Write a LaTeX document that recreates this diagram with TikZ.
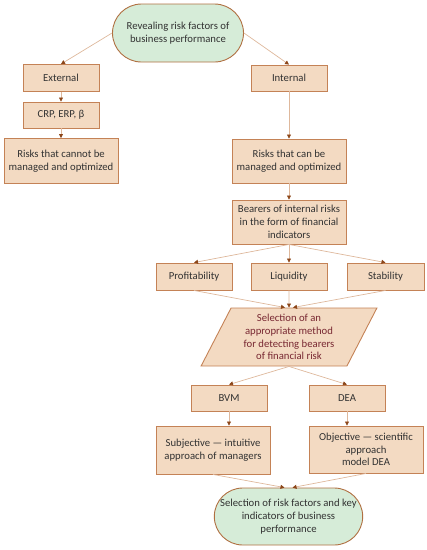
\documentclass[tikz,border=0pt]{standalone}
\usepackage{fontspec}
\setmainfont{Carlito}
\usetikzlibrary{shapes.geometric,shapes.misc,arrows.meta}
\definecolor{boxfill}{RGB}{243,218,194}
\definecolor{boxdraw}{RGB}{196,130,86}
\definecolor{grfill}{RGB}{214,236,216}
\definecolor{grdraw}{RGB}{176,112,66}
\definecolor{txt}{RGB}{50,50,50}
\definecolor{partxt}{RGB}{120,40,50}
\definecolor{linecol}{RGB}{222,184,156}
\definecolor{tipcol}{RGB}{140,70,25}
\tikzset{
  box/.style={rectangle,draw=boxdraw,fill=boxfill,line width=0.9pt,text=txt,align=center,inner sep=1pt,font=\fontsize{10.7}{12.8}\selectfont},
  term/.style={rounded rectangle,draw=grdraw,fill=grfill,line width=0.9pt,text=txt,align=center,inner sep=1pt,font=\fontsize{10.7}{12.8}\selectfont},
  para/.style={trapezium,trapezium left angle=63.4,trapezium right angle=116.6,trapezium stretches=true,draw=boxdraw,fill=boxfill,line width=0.9pt,text=partxt,align=center,inner sep=1pt,font=\fontsize{10.7}{12.8}\selectfont},
  conn/.style={draw=linecol,line width=0.7pt,-{Triangle[length=4pt,width=4pt,color=tipcol]}}
}
\begin{document}
\begin{tikzpicture}[x=1pt,y=-1pt]
\useasboundingbox (0,0) rectangle (427,550);
\node[term,minimum width=133pt,minimum height=58pt] (top) at (178,33) {Revealing risk factors of\\business performance};
\node[box,minimum width=76pt,minimum height=27pt] (ext) at (61,78) {External};
\node[box,minimum width=76pt,minimum height=26pt] (crp) at (61,115) {CRP, ERP, β};
\node[box,minimum width=114pt,minimum height=45pt] (rcn) at (61,161) {Risks that cannot be\\managed and optimized};
\node[box,minimum width=76pt,minimum height=26pt] (int) at (289,78) {Internal};
\node[box,minimum width=114pt,minimum height=44pt] (rc) at (289,161) {Risks that can be\\managed and optimized};
\node[box,minimum width=114pt,minimum height=44pt] (bear) at (289,222) {Bearers of internal risks\\in the form of financial\\indicators};
\node[box,minimum width=76pt,minimum height=27pt] (prof) at (194,276.5) {Profitability};
\node[box,minimum width=76pt,minimum height=27pt] (liq) at (289,276.5) {Liquidity};
\node[box,minimum width=77pt,minimum height=27pt] (stab) at (385.5,276.5) {Stability};
\node[para,minimum width=176pt,minimum height=58pt] (sel) at (289,337) {Selection of an\\appropriate method\\for detecting bearers\\of financial risk};
\node[box,minimum width=76pt,minimum height=26pt] (bvm) at (229,398) {BVM};
\node[box,minimum width=76pt,minimum height=26pt] (dea) at (347,398) {DEA};
\node[box,minimum width=114pt,minimum height=48pt] (subj) at (213,450) {Subjective --- intuitive\\approach of managers};
\node[box,minimum width=114pt,minimum height=47pt] (obj) at (366,449.5) {Objective --- scientific\\approach\\model DEA};
\node[term,minimum width=147pt,minimum height=57pt,inner xsep=0pt] (fin) at (288.5,516.5) {Selection of risk factors and key\\indicators of business\\performance};
\draw[conn] (top.west) -- (ext.north);
\draw[conn] (top.east) -- (int.north);
\draw[conn] (ext) -- (crp);
\draw[conn] (crp) -- (rcn);
\draw[conn] (int) -- (rc);
\draw[conn] (rc) -- (bear);
\draw[conn] (bear.south) -- (prof.north);
\draw[conn] (bear.south) -- (liq.north);
\draw[conn] (bear.south) -- (stab.north);
\draw[conn] (prof.south) -- ([xshift=-4pt]sel.north);
\draw[conn] (liq.south) -- (sel.north);
\draw[conn] (stab.south) -- ([xshift=4pt]sel.north);
\draw[conn] (sel.south) -- (bvm.north);
\draw[conn] (sel.south) -- (dea.north);
\draw[conn] (bvm.south) -- (bvm.south |- subj.north);
\draw[conn] (dea.south) -- (dea.south |- obj.north);
\draw[conn] (subj.south) -- ([xshift=-4pt]fin.north);
\draw[conn] (obj.south) -- ([xshift=4pt]fin.north);
\end{tikzpicture}
\end{document}
